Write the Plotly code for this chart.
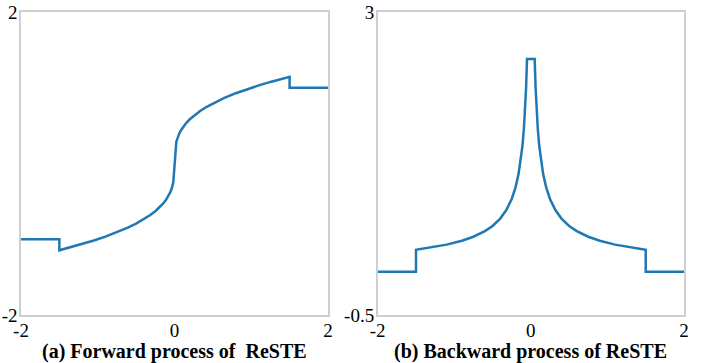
import plotly.graph_objects as go
from plotly.subplots import make_subplots

# Forward process of ReSTE
fwd_x = [-2.0, -1.5, -1.5, -1.35, -1.2, -1.05, -0.9, -0.75, -0.6, -0.5, -0.4, -0.32,
         -0.25, -0.2, -0.15, -0.11, -0.08, -0.055, -0.035, -0.016, 0.024, 0.04, 0.06,
         0.085, 0.115, 0.15, 0.2, 0.26, 0.33, 0.42, 0.52, 0.65, 0.8, 0.95, 1.1, 1.25,
         1.4, 1.5, 1.5, 2.0]
fwd_y = [-1.0, -1.0, -1.145, -1.105, -1.063, -1.016, -0.965, -0.909, -0.843, -0.794,
         -0.737, -0.684, -0.63, -0.585, -0.531, -0.479, -0.431, -0.38, -0.327, -0.252,
         0.288, 0.342, 0.391, 0.44, 0.486, 0.531, 0.585, 0.638, 0.691, 0.749, 0.804,
         0.866, 0.928, 0.983, 1.032, 1.077, 1.119, 1.145, 1.0, 1.0]

# Backward process of ReSTE
bwd_x = [-2.0, -1.5, -1.5, -1.3, -1.1, -0.9, -0.75, -0.6, -0.5, -0.4, -0.32, -0.25,
         -0.2, -0.16, -0.13, -0.11, -0.09, -0.075, -0.062, -0.05, 0.05, 0.062, 0.075,
         0.09, 0.11, 0.13, 0.16, 0.2, 0.25, 0.32, 0.4, 0.5, 0.6, 0.75, 0.9, 1.1, 1.3,
         1.5, 1.5, 2.0]
bwd_y = [0.0, 0.0, 0.254, 0.280, 0.313, 0.358, 0.404, 0.469, 0.529, 0.614, 0.712,
         0.840, 0.975, 1.131, 1.299, 1.452, 1.660, 1.874, 2.128, 2.456, 2.456, 2.128,
         1.874, 1.660, 1.452, 1.299, 1.131, 0.975, 0.840, 0.712, 0.614, 0.529, 0.469,
         0.404, 0.358, 0.313, 0.280, 0.254, 0.0, 0.0]

x_ticks = [-2, 0, 2]
fwd_yticks = [-2, 2]
bwd_yticks = [-0.5, 3]
captions = ["(a) Forward process of&nbsp; ReSTE", "(b) Backward process of ReSTE"]

LINE = "#1f77b4"
FRAME = "#cfcfcf"
FONT = "Liberation Serif"
TICKFONT = dict(family=FONT, size=19, color="black")

fig = make_subplots(rows=1, cols=2, horizontal_spacing=0.075)
fig.add_trace(go.Scatter(x=fwd_x, y=fwd_y, mode="lines",
                         line=dict(color=LINE, width=2.5), showlegend=False), 1, 1)
fig.add_trace(go.Scatter(x=bwd_x, y=bwd_y, mode="lines",
                         line=dict(color=LINE, width=2.5), showlegend=False), 1, 2)

axis_common = dict(showgrid=False, zeroline=False, showline=True, mirror=True,
                   linecolor=FRAME, linewidth=1.5, ticks="", automargin=False,
                   tickfont=TICKFONT)

fig.update_xaxes(range=[-2, 2], tickvals=x_ticks, ticktext=[str(v) for v in x_ticks],
                 domain=[0.0, 0.463], ticklabelstandoff=-3, row=1, col=1, **axis_common)
fig.update_xaxes(range=[-2, 2], tickvals=x_ticks, ticktext=[str(v) for v in x_ticks],
                 domain=[0.538, 1.0], ticklabelstandoff=-3, row=1, col=2, **axis_common)
fig.update_yaxes(range=[-2, 2], tickvals=fwd_yticks, ticklabelstandoff=-2,
                 ticktext=[str(v) for v in fwd_yticks], row=1, col=1, **axis_common)
fig.update_yaxes(range=[-0.5, 3], tickvals=bwd_yticks, ticklabelstandoff=-2,
                 ticktext=[str(v) for v in bwd_yticks], row=1, col=2, **axis_common)

fig.add_annotation(x=0.2315, y=-0.122, xref="paper", yref="paper", text=f"<b>{captions[0]}</b>",
                   showarrow=False, xanchor="center", yanchor="middle",
                   font=dict(family=FONT, size=20, color="black"))
fig.add_annotation(x=0.769, y=-0.122, xref="paper", yref="paper", text=f"<b>{captions[1]}</b>",
                   showarrow=False, xanchor="center", yanchor="middle",
                   font=dict(family=FONT, size=20, color="black"))

fig.update_layout(width=704, height=363, margin=dict(l=21, r=20, t=12, b=48),
                  plot_bgcolor="white", paper_bgcolor="white",
                  font=dict(family=FONT, color="black"))

fig.write_html("out.html", config={"displayModeBar": False},
               post_script="document.body.style.margin='0';document.body.style.overflow='hidden';")
